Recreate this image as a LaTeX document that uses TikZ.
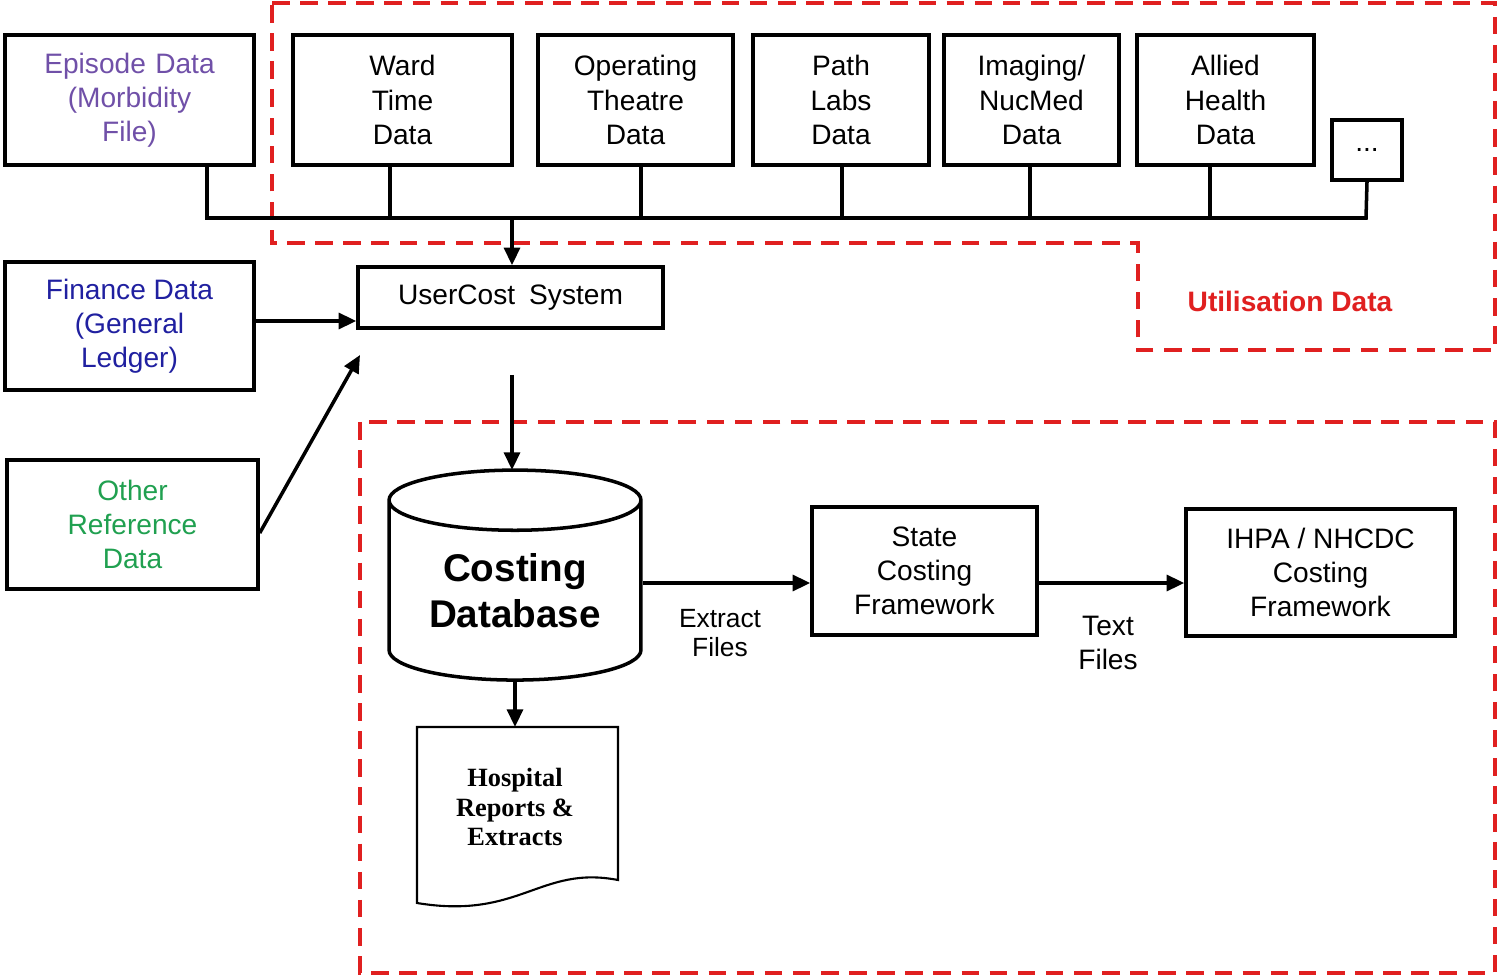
\documentclass[tikz,border=0pt]{standalone}
\usepackage{fontspec}
\setmainfont{Liberation Sans}
\newfontfamily\serifb{Liberation Serif}
\usetikzlibrary{arrows.meta,shapes.geometric}
\definecolor{epi}{HTML}{7050A8}
\definecolor{fin}{HTML}{2020A0}
\definecolor{oth}{HTML}{20A050}
\definecolor{redd}{HTML}{E02020}
\begin{document}
\begin{tikzpicture}[x=0.02cm,y=-0.02cm,
 box/.style={draw,line width=2pt,align=center,font=\fontsize{16}{19.5}\selectfont,inner sep=0},
 arr/.style={line width=2pt,-{Triangle[length=10pt,width=9pt]}},
 ln/.style={line width=2pt},
 rd/.style={draw=redd,line width=1.8pt,dash pattern=on 10pt off 6pt}]
\useasboundingbox (0,0) rectangle (1500,979);
\draw[rd] (272,3) -- (1495,3) -- (1495,350) -- (1138,350) -- (1138,243) -- (272,243) -- cycle;
\node[text=redd,font=\fontsize{16}{19}\selectfont\bfseries] (ut) at (1290,301) {Utilisation Data};
\draw[rd] (360,422) rectangle (1495,973);
\node[box,minimum width=4.98cm,minimum height=2.6cm,text=epi] (epi) at (129.5,100) {Episode\,\,Data\\(Morbidity\\File)};
\node[box,minimum width=4.38cm,minimum height=2.6cm] (ward) at (402.5,100) {Ward\\Time\\Data};
\node[box,minimum width=3.9cm,minimum height=2.6cm] (op) at (635.5,100) {Operating\\Theatre\\Data};
\node[box,minimum width=3.52cm,minimum height=2.6cm] (path) at (841,100) {Path\\Labs\\Data};
\node[box,minimum width=3.5cm,minimum height=2.6cm] (img) at (1031.5,100) {Imaging/\\NucMed\\Data};
\node[box,minimum width=3.54cm,minimum height=2.6cm] (all) at (1225.5,100) {Allied\\Health\\Data};
\node[box,minimum width=1.4cm,minimum height=1.2cm] (dots) at (1367,150) {...};
\coordinate (b1) at (207,218); \coordinate (b2) at (1366,218);
\draw[ln] (207,165) -- (b1) -- (b2) -- (dots.south);
\draw[ln] (390,165) -- (390,218);
\draw[ln] (641,165) -- (641,218);
\draw[ln] (842,165) -- (842,218);
\draw[ln] (1030,165) -- (1030,218);
\draw[ln] (1210,165) -- (1210,218);
\node[box,minimum width=6.1cm,minimum height=1.22cm] (uc) at (510.5,297.5) {UserCost\,\,\,System};
\draw[arr] (512,218) -- (uc.north-|512,0);
\node[box,minimum width=4.98cm,minimum height=2.56cm,text=fin] (fin) at (129.5,326) {Finance Data\\(General\\Ledger)};
\draw[arr] (fin.east|-0,321) -- (uc.west|-0,321);
\node[box,minimum width=5.02cm,minimum height=2.58cm,text=oth] (oth) at (132.5,524.5) {Other\\Reference\\Data};
\coordinate (ot) at (360,355);
\draw[arr] (oth.east|-0,533) -- (ot);
\node[draw,line width=2pt,cylinder,shape border rotate=90,aspect=0.35,minimum width=5.04cm,minimum height=4.2cm,align=center,font=\fontsize{22}{26}\selectfont\bfseries,inner sep=0] (db) at (515,591) {Costing\\Database};
\draw[arr] (512,375) -- (512,470);
\node[box,minimum width=4.5cm,minimum height=2.56cm] (st) at (924.5,571) {State\\Costing\\Framework};
\node[box,minimum width=5.38cm,minimum height=2.54cm] (ih) at (1320.5,572.5) {IHPA / NHCDC\\Costing\\Framework};
\draw[arr] (db.east|-0,583) -- (st.west|-0,583);
\draw[arr] (st.east|-0,583) -- (ih.west|-0,583);
\node[align=center,font=\fontsize{15}{17}\selectfont] (ef) at (720,633) {Extract\\Files};
\node[align=center,font=\fontsize{16}{19}\selectfont] (tf) at (1108,643) {Text\\Files};
\draw[line width=1.2pt] (417,727) -- (618,727) -- (618,880) .. controls (540,865) and (520,920) .. (417,903) -- cycle;
\node[align=center,font=\fontsize{15}{17}\serifb\bfseries] (doc) at (515,807) {Hospital\\Reports \&\\Extracts};
\draw[arr] (515,680) -- (515,727);
\end{tikzpicture}
\end{document}
